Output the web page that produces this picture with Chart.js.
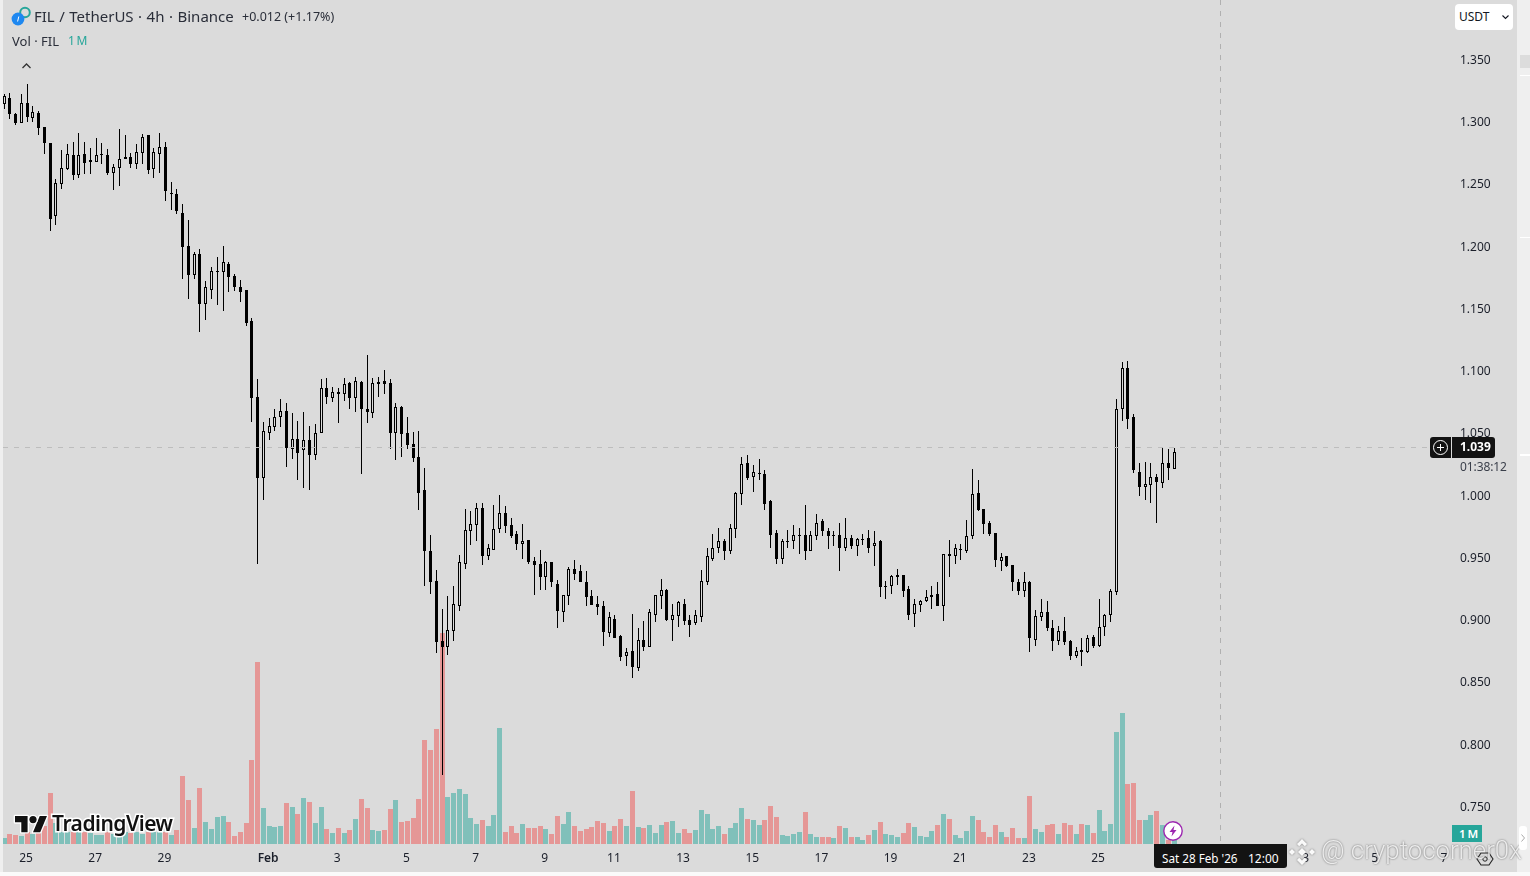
<!DOCTYPE html>
<html>
<head>
<meta charset="utf-8">
<title>FIL / TetherUS</title>
<script src="https://cdn.jsdelivr.net/npm/chart.js@4"></script>
<style>
html,body{margin:0;padding:0;width:1530px;height:876px;overflow:hidden;background:#efefef;font-family:"Noto Sans",sans-serif}
#panel{position:absolute;left:3px;top:0;width:1514px;height:872px;background:#dbdbdb}
#bottomStrip{position:absolute;left:0;top:872px;width:1530px;height:4px;background:#fafafa}
#c{position:absolute;left:0;top:0}
.t{position:absolute;white-space:nowrap;line-height:1}
svg{position:absolute;overflow:visible}
</style>
</head>
<body>
<div id="panel"></div>
<div id="bottomStrip"></div>
<canvas id="c" width="1530" height="876"></canvas>

<svg style="left:0;top:0" width="40" height="30">
  <circle cx="25" cy="12.5" r="4.8" fill="none" stroke="#26a69a" stroke-width="2"/>
  <circle cx="18" cy="19" r="6.4" fill="#1e88f0"/>
  <path d="M18.8 16.5l-1.2 5" stroke="#fff" stroke-width="1"/>
</svg>
<div class="t" style="left:34px;top:9px;font-size:15px;color:#2a2e39;word-spacing:0.6px">FIL / TetherUS · 4h · Binance</div>
<div class="t" style="left:242px;top:11px;font-size:12.5px;color:#2a2e39">+0.012 (+1.17%)</div>
<div class="t" style="left:12px;top:35px;font-size:13px;color:#2a2e39">Vol · FIL</div>
<div class="t" style="left:68px;top:35px;font-size:12px;color:#26a69a;word-spacing:-1.5px">1 M</div>
<svg style="left:0;top:0" width="40" height="72"><path d="M22.5 68L26.5 64L30.5 68" fill="none" stroke="#333" stroke-width="1.3"/></svg>

<svg style="left:10px;top:810px" width="170" height="30">
  <g transform="translate(5,6) scale(0.9)" fill="#111" stroke="#fff" stroke-width="3" paint-order="stroke" stroke-linejoin="round">
    <path d="M14 18H7V7H0V0h14v18zM28 18h-8L27.5 0h8L28 18z"/><circle cx="20" cy="4" r="4"/>
  </g>
</svg>
<div class="t" id="tvText" style="left:52px;top:813px;font-size:21px;font-weight:600;color:#111;-webkit-text-stroke:3px #fff;paint-order:stroke fill;letter-spacing:-0.5px">TradingView</div>

<div style="position:absolute;left:1455px;top:4px;width:58px;height:26px;background:#fff;border-radius:4px"></div>
<div class="t" style="left:1459px;top:11px;font-size:12px;color:#131722">USDT</div>
<svg style="left:1500px;top:13px" width="10" height="8"><path d="M2.5 2.5L5.5 5.5L8.5 2.5" fill="none" stroke="#131722" stroke-width="1.1"/></svg>

<div style="position:absolute;left:1430px;top:437px;width:21px;height:21px;background:#131313;border-radius:3px 0 0 3px"></div>
<svg style="left:1430px;top:437px" width="21" height="21"><circle cx="10.5" cy="10.5" r="7" fill="none" stroke="#fff"/><path d="M10.5 7v7M7 10.5h7" stroke="#fff"/></svg>
<div style="position:absolute;left:1452px;top:437px;width:43px;height:21px;background:#131313;border-radius:0 3px 3px 0"></div>
<div class="t" id="curPrice" style="left:1460px;top:441px;font-size:12px;font-weight:700;color:#fff">1.039</div>
<div class="t" style="left:1460px;top:461px;font-size:12px;color:#3a3f4a;letter-spacing:-0.1px">01:38:12</div>

<div style="position:absolute;left:1452px;top:825px;width:30px;height:17px;background:#26a69a"></div>
<div class="t" style="left:1459px;top:828px;font-size:11.5px;font-weight:600;color:#fff;word-spacing:-1px">1 M</div>

<svg style="left:1163px;top:821px" width="20" height="20">
  <circle cx="10" cy="10" r="9.2" fill="#fff" stroke="#9c27b0" stroke-width="1.4"/>
  <path d="M11.5 4.5L6.5 11h3l-1 4.5 5-6.5h-3z" fill="#9c27b0"/>
</svg>

<div style="position:absolute;left:1154px;top:844px;width:133px;height:24px;background:#131313;border-radius:0 0 3px 3px"></div>
<div class="t" style="left:1162px;top:853px;font-size:11.7px;color:#fff">Sat 28 Feb '26</div>
<div class="t" style="left:1248px;top:853px;font-size:12px;color:#fff">12:00</div>

<svg style="left:1475px;top:850px" width="20" height="18"><path d="M6 3h8l4 6-4 6H6L2 9z" fill="none" stroke="#222" stroke-width="1.1"/><circle cx="10" cy="9" r="2.2" fill="none" stroke="#222"/></svg>

<svg style="left:1288px;top:838px;filter:drop-shadow(0 0 1px #777)" width="28" height="28" fill="#fff" fill-opacity="0.95">
  <path d="M14 1l5 5-2.2 2.2L14 5.4l-2.8 2.8L9 6z"/>
  <path d="M14 27l5-5-2.2-2.2L14 22.6l-2.8-2.8L9 22z"/>
  <path d="M1 14l3-3 3 3-3 3z"/><path d="M27 14l-3-3-3 3 3 3z"/>
  <path d="M14 10l4 4-4 4-4-4z"/>
</svg>
<div class="t" id="wm" style="left:1321px;top:838px;font-size:25.8px;font-family:Roboto,sans-serif;font-weight:300;color:rgba(255,255,255,.82);text-shadow:0 0 2px rgba(60,60,60,.8)">@ cryptocorner0x</div>

<div style="position:absolute;left:1519px;top:826px;width:8px;height:24px;background:#fff;border-radius:3px"></div>
<svg style="left:1519px;top:832px" width="8" height="12"><path d="M2.5 2.5L5.5 6L2.5 9.5" fill="none" stroke="#aaa"/></svg>
<div style="position:absolute;left:1520px;top:55px;width:10px;height:13px;background:#dcdcdc"></div>
<div style="position:absolute;left:1520px;top:75px;width:10px;height:1px;background:#fff"></div>
<div style="position:absolute;left:1520px;top:237px;width:10px;height:1px;background:#fff"></div>
<div style="position:absolute;left:1520px;top:454px;width:10px;height:2px;background:#fff"></div>

<script>
// Candle values, Binance FIL/USDT 4h, oldest first
const highs = [
1.322,1.323,1.307,1.322,1.330,1.313,1.309,1.296,1.283,1.254,
1.277,1.282,1.284,1.291,1.284,1.279,1.287,1.283,1.278,1.266,
1.294,1.289,1.275,1.282,1.290,1.289,1.279,1.291,1.284,1.252,
1.246,1.234,1.221,1.195,1.198,1.172,1.183,1.191,1.200,1.187,
1.178,1.173,1.165,1.142,1.093,1.059,1.062,1.069,1.077,1.074,
1.066,1.060,1.067,1.056,1.057,1.093,1.094,1.087,1.086,1.094,
1.091,1.095,1.092,1.113,1.094,1.095,1.101,1.093,1.074,1.072,
1.063,1.051,1.052,1.022,0.968,0.940,0.909,0.919,0.927,0.952,
0.989,0.987,0.994,0.994,0.961,0.992,1.000,0.991,0.982,0.971,
0.977,0.964,0.950,0.956,0.947,0.946,0.932,0.920,0.942,0.948,
0.944,0.939,0.924,0.919,0.915,0.906,0.904,0.888,0.877,0.905,
0.893,0.899,0.909,0.920,0.933,0.925,0.913,0.915,0.917,0.904,
0.908,0.940,0.958,0.969,0.974,0.965,0.977,1.003,1.031,1.032,
1.024,1.029,1.020,0.996,0.972,0.965,0.972,0.976,0.974,0.992,
0.971,0.985,0.981,0.974,0.971,0.978,0.982,0.968,0.966,0.969,
0.972,0.971,0.964,0.931,0.936,0.941,0.936,0.927,0.917,0.916,
0.924,0.927,0.930,0.953,0.964,0.961,0.961,0.980,1.021,1.012,
0.989,0.979,0.970,0.954,0.951,0.944,0.933,0.938,0.931,0.908,
0.917,0.915,0.900,0.895,0.902,0.884,0.878,0.885,0.888,0.888,
0.917,0.905,0.925,1.077,1.107,1.108,1.065,1.026,1.027,1.026,
1.017,1.038,1.037,1.038];
const lows = [
1.310,1.302,1.297,1.299,1.300,1.300,1.289,1.274,1.212,1.217,
1.246,1.261,1.253,1.255,1.258,1.258,1.268,1.266,1.257,1.245,
1.248,1.270,1.263,1.262,1.266,1.258,1.255,1.259,1.236,1.229,
1.226,1.174,1.158,1.174,1.131,1.141,1.158,1.153,1.148,1.163,
1.164,1.155,1.136,1.059,0.945,0.996,1.044,1.052,1.055,1.023,
1.029,1.012,1.006,1.004,1.028,1.050,1.073,1.075,1.058,1.076,
1.069,1.067,1.017,1.058,1.062,1.079,1.081,1.037,1.028,1.031,
1.037,1.027,0.988,0.927,0.921,0.873,0.775,0.872,0.883,0.907,
0.941,0.960,0.963,0.944,0.948,0.956,0.970,0.970,0.966,0.956,
0.949,0.945,0.920,0.924,0.924,0.926,0.893,0.898,0.912,0.932,
0.930,0.911,0.912,0.904,0.879,0.886,0.885,0.867,0.863,0.853,
0.859,0.875,0.878,0.898,0.909,0.899,0.883,0.894,0.896,0.886,
0.896,0.898,0.928,0.947,0.954,0.948,0.953,0.966,0.992,1.012,
1.003,1.012,0.988,0.958,0.945,0.945,0.958,0.957,0.953,0.948,
0.955,0.964,0.967,0.957,0.959,0.939,0.955,0.957,0.951,0.960,
0.954,0.943,0.918,0.917,0.921,0.928,0.918,0.900,0.894,0.906,
0.914,0.909,0.911,0.899,0.934,0.945,0.948,0.954,0.965,0.987,
0.969,0.967,0.942,0.939,0.942,0.923,0.920,0.918,0.874,0.879,
0.899,0.891,0.875,0.880,0.880,0.868,0.869,0.863,0.873,0.877,
0.878,0.887,0.898,0.920,1.060,1.053,1.018,0.999,0.996,0.994,
0.978,1.006,1.012,1.021];
const opens = [
1.314,1.319,1.306,1.299,1.315,1.303,1.307,1.296,1.283,1.224,
1.250,1.262,1.273,1.257,1.274,1.268,1.268,1.273,1.273,1.259,
1.263,1.270,1.272,1.266,1.275,1.289,1.262,1.274,1.280,1.242,
1.242,1.227,1.200,1.177,1.194,1.154,1.165,1.179,1.179,1.186,
1.176,1.167,1.165,1.140,1.079,1.014,1.050,1.055,1.063,1.068,
1.037,1.045,1.036,1.044,1.032,1.050,1.086,1.078,1.083,1.081,
1.090,1.078,1.091,1.069,1.066,1.089,1.092,1.090,1.050,1.071,
1.050,1.041,1.031,1.004,0.955,0.931,0.883,0.878,0.891,0.911,
0.945,0.971,0.976,0.990,0.951,0.956,0.973,0.986,0.976,0.969,
0.961,0.964,0.947,0.945,0.934,0.946,0.929,0.906,0.919,0.941,
0.939,0.930,0.919,0.913,0.911,0.889,0.901,0.887,0.871,0.875,
0.861,0.884,0.878,0.904,0.919,0.924,0.900,0.903,0.913,0.900,
0.897,0.902,0.930,0.949,0.958,0.963,0.955,0.973,1.001,1.026,
1.015,1.017,1.017,0.995,0.970,0.949,0.963,0.963,0.967,0.968,
0.955,0.967,0.979,0.971,0.967,0.968,0.958,0.966,0.959,0.964,
0.966,0.959,0.963,0.926,0.927,0.934,0.936,0.925,0.905,0.912,
0.915,0.918,0.921,0.911,0.953,0.951,0.956,0.955,0.967,1.002,
0.989,0.978,0.970,0.947,0.951,0.944,0.930,0.923,0.930,0.884,
0.902,0.906,0.893,0.883,0.891,0.883,0.871,0.876,0.874,0.886,
0.879,0.894,0.904,0.922,1.069,1.102,1.063,1.019,1.007,1.008,
1.015,1.010,1.026,1.021];
const closes = [
1.321,1.306,1.299,1.315,1.304,1.308,1.295,1.283,1.222,1.251,
1.263,1.274,1.257,1.273,1.267,1.269,1.273,1.274,1.259,1.264,
1.270,1.272,1.266,1.276,1.288,1.261,1.276,1.280,1.244,1.243,
1.228,1.199,1.177,1.194,1.154,1.167,1.180,1.180,1.187,1.175,
1.167,1.163,1.138,1.078,1.014,1.052,1.056,1.063,1.068,1.038,
1.045,1.034,1.044,1.032,1.050,1.086,1.079,1.083,1.081,1.089,
1.078,1.092,1.069,1.067,1.090,1.091,1.089,1.050,1.071,1.049,
1.040,1.030,1.002,0.955,0.930,0.882,0.878,0.892,0.913,0.946,
0.972,0.977,0.990,0.951,0.958,0.973,0.986,0.975,0.967,0.961,
0.963,0.946,0.944,0.934,0.946,0.930,0.907,0.920,0.941,0.937,
0.930,0.918,0.912,0.910,0.890,0.902,0.885,0.870,0.874,0.862,
0.884,0.878,0.906,0.920,0.924,0.900,0.904,0.914,0.899,0.896,
0.904,0.931,0.951,0.958,0.963,0.955,0.974,1.002,1.025,1.014,
1.019,1.018,0.993,0.968,0.949,0.963,0.963,0.968,0.968,0.955,
0.968,0.978,0.971,0.967,0.968,0.958,0.966,0.959,0.965,0.965,
0.958,0.962,0.926,0.927,0.935,0.936,0.923,0.904,0.913,0.915,
0.918,0.920,0.911,0.953,0.951,0.958,0.957,0.967,1.001,0.988,
0.977,0.969,0.948,0.950,0.943,0.930,0.923,0.930,0.885,0.903,
0.906,0.893,0.883,0.891,0.882,0.871,0.875,0.874,0.885,0.879,
0.894,0.904,0.923,1.069,1.102,1.061,1.020,1.007,1.009,1.015,
1.011,1.026,1.022,1.035];
// Volume, millions of FIL per candle
const volumes = [
0.6,1.0,0.9,0.8,1.2,1.0,1.2,1.8,5.1,2.1,
1.2,1.2,1.2,1.2,1.2,1.1,0.9,0.9,1.2,1.0,
0.8,1.2,1.1,1.2,1.0,1.2,1.2,1.2,1.2,0.9,
1.4,6.8,4.4,1.6,5.6,2.2,1.5,2.7,2.8,2.2,
0.8,1.2,2.1,8.4,18.2,3.6,1.8,1.7,1.8,4.1,
3.7,3.0,4.6,4.2,2.1,3.7,1.5,1.1,1.6,1.1,
1.4,2.5,4.5,3.6,1.4,1.3,1.4,3.5,4.4,2.2,
2.3,2.6,4.5,10.4,9.4,11.5,21.1,4.7,5.1,5.5,
5.0,2.6,2.0,2.4,1.8,2.9,11.6,1.2,1.8,1.1,
2.0,1.6,1.6,1.8,1.5,1.0,2.8,2.0,3.2,1.8,
1.3,1.5,1.7,2.3,2.1,1.3,1.8,2.5,1.8,5.3,
1.7,1.6,1.9,1.1,1.9,2.2,2.3,1.1,1.5,1.1,
1.4,3.4,3.0,1.5,1.8,1.0,1.6,2.1,3.6,2.5,
2.4,1.9,2.4,3.8,2.7,0.9,0.8,1.0,1.2,3.2,
1.0,0.7,0.7,0.7,0.6,1.8,1.6,0.7,0.7,0.4,
0.9,1.4,2.2,1.0,0.9,0.7,1.1,2.1,1.7,0.8,
0.7,1.3,1.9,3.0,2.5,0.9,0.6,1.3,2.8,2.4,
1.2,0.7,1.9,1.2,0.7,1.6,0.6,0.6,4.8,1.5,
1.2,1.9,2.0,1.0,2.1,1.9,1.0,2.0,1.9,1.1,
3.4,1.3,2.0,11.2,13.1,6.0,6.1,2.4,2.4,2.9,
3.3,1.9,0.4,1.0];
const priceTicks = [0.75,0.80,0.85,0.90,0.95,1.00,1.05,1.10,1.15,1.20,1.25,1.30,1.35];
const dateTickIndex = [4,16,28,46,58,70,82,94,106,118,130,142,154,166,178,190,202,214,226,238,250];
const dateTickLabels = ['25','27','29','Feb','3','5','7','9','11','13','15','17','19','21','23','25','27','Mar','3','5','7'];
const currentPrice = 1.039;
const crosshairIndex = 211;

const BG = '#dbdbdb', INK = '#000000', UPV = '#80c0ba', DOWNV = '#e59796';
const isUp = closes.map((c, i) => c >= opens[i]);
const noPad = s => { s.paddingTop = 0; s.paddingBottom = 0; s.paddingLeft = 0; s.paddingRight = 0; };

const snapBars = {
  id: 'snapBars',
  beforeDatasetsDraw(chart) {
    chart.getSortedVisibleDatasetMetas().forEach(meta => {
      meta.data.forEach(el => {
        el.x = Math.floor(el.x + 1) + 0.5;
        el.y = Math.round(el.y);
        el.base = Math.round(el.base);
        if (el.base === el.y) el.base = el.y + 1;
      });
    });
  }
};
const crosshair = {
  id: 'crosshair',
  afterDatasetsDraw(chart) {
    const { ctx, chartArea: a, scales } = chart;
    const py = Math.round(scales.y.getPixelForValue(currentPrice)) + 0.5;
    const px = Math.floor(scales.x.getPixelForValue(crosshairIndex) + 1) + 0.5;
    ctx.save();
    ctx.lineWidth = 1;
    ctx.setLineDash([5, 6]);
    ctx.strokeStyle = '#bdbdbd';
    ctx.beginPath(); ctx.moveTo(a.left, py); ctx.lineTo(1430, py); ctx.stroke();
    ctx.strokeStyle = '#b0b0b0';
    ctx.beginPath(); ctx.moveTo(px, a.top); ctx.lineTo(px, a.bottom); ctx.stroke();
    ctx.restore();
  }
};

new Chart(document.getElementById('c'), {
  type: 'bar',
  data: {
    datasets: [
      {
        label: 'Volume', yAxisID: 'yv', order: 3, barThickness: 5,
        data: volumes.map((v, i) => ({ x: i, y: v })),
        backgroundColor: isUp.map(u => u ? UPV : DOWNV), borderWidth: 0, inflateAmount: 0
      },
      {
        label: 'Wick', yAxisID: 'y', order: 2, barThickness: 1,
        data: highs.map((h, i) => ({ x: i, y: [lows[i], h] })),
        backgroundColor: INK, borderWidth: 0, inflateAmount: 0
      },
      {
        label: 'Body', yAxisID: 'y', order: 1, barThickness: 3,
        data: opens.map((o, i) => ({ x: i, y: [o, closes[i]] })),
        backgroundColor: isUp.map(u => u ? BG : INK), borderColor: INK,
        borderWidth: 1, borderSkipped: false, inflateAmount: 0
      }
    ]
  },
  options: {
    responsive: false, animation: false, devicePixelRatio: 1,
    layout: { padding: { left: 3, right: 0, top: 0, bottom: 0 } },
    plugins: { legend: { display: false }, tooltip: { enabled: false } },
    datasets: { bar: { grouped: false } },
    scales: {
      x: {
        type: 'linear', min: 0, max: 251.4, offset: false,
        grid: { display: false, drawTicks: false }, border: { display: false },
        afterBuildTicks: s => { s.ticks = dateTickIndex.map(v => ({ value: v })); },
        afterFit: s => { s.height = 32; noPad(s); },
        ticks: {
          autoSkip: false, maxRotation: 0, padding: 7, color: '#1b1f2a',
          font: ctx => ({ family: '"Noto Sans"', size: 12, weight: (ctx.tick && (ctx.tick.label === 'Feb' || ctx.tick.label === 'Mar')) ? '600' : '400' }),
          callback: (v, i) => dateTickLabels[i]
        }
      },
      y: {
        position: 'right', min: 0.71988, max: 1.39779,
        grid: { display: false, drawTicks: false }, border: { display: false },
        afterBuildTicks: s => { s.ticks = priceTicks.map(v => ({ value: v })); },
        afterFit: s => { s.width = 78; noPad(s); },
        ticks: {
          padding: 8, labelOffset: 1, color: '#1b1f2a', autoSkip: false,
          font: { family: '"Noto Sans"', size: 12 },
          callback: v => v.toFixed(3)
        }
      },
      yv: { display: false, min: 0, max: 84.4 }
    }
  },
  plugins: [snapBars, crosshair]
});
</script>
</body>
</html>
